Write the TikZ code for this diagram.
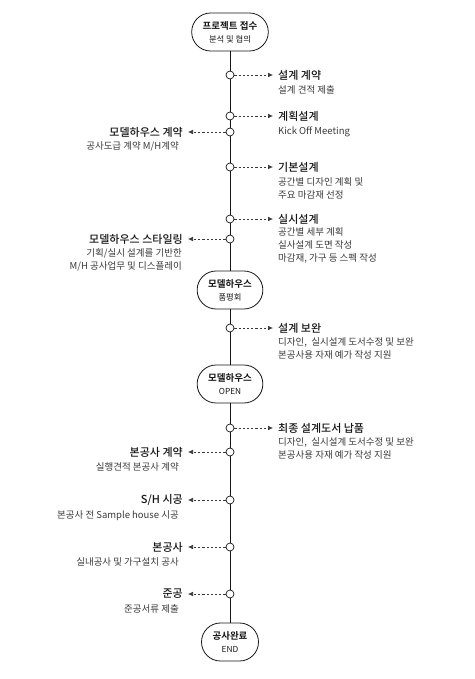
\documentclass[tikz,border=0pt]{standalone}
\usepackage{fontspec}
\setmainfont{Noto Sans CJK KR}[BoldFont={Noto Sans CJK KR Bold}]
\newfontfamily\medfont{Noto Sans CJK KR Medium}
\usetikzlibrary{arrows.meta}

\definecolor{ink}{HTML}{161616}
\definecolor{subink}{HTML}{3A3A3A}

\begin{document}
\begin{tikzpicture}[
  x=1pt, y=-1pt,
  stage/.style={
    rectangle,
    rounded corners=18.9pt,
    draw=ink,
    line width=0.8pt,
    minimum height=38pt,
    inner xsep=11pt,
    align=center,
    text=ink
  },
  milestone/.style={circle, draw=ink, fill=white, line width=0.7pt,
    minimum size=8pt, inner sep=0pt},
  headline/.style={font=\medfont\fontsize{11}{13}\selectfont, text=ink, inner sep=0pt},
  note/.style={font=\fontsize{9.5}{13.2}\selectfont, text=subink, inner sep=0pt},
  link/.style={draw=ink!85, line width=0.6pt, dash pattern=on 2.2pt off 2pt,
    shorten >=5pt, -{Latex[length=5pt,width=4.5pt]}}
]
  \useasboundingbox (0,0) rectangle (474,679);

  % stages on the main line
  \node[stage] (start) at (230,32)
    {{\bfseries\fontsize{9.5}{10}\selectfont 프로젝트 접수}\\[1pt]{\fontsize{8.3}{9}\selectfont 분석 및 협의}};
  \node[stage] (review) at (230,290)
    {{\bfseries\fontsize{9.5}{10}\selectfont 모델하우스}\\[1pt]{\fontsize{8.3}{9}\selectfont 품평회}};
  \node[stage] (open) at (230,384)
    {{\bfseries\fontsize{9.5}{10}\selectfont 모델하우스}\\[1pt]{\fontsize{8.3}{9}\selectfont OPEN}};
  \node[stage] (done) at (230,642)
    {{\bfseries\fontsize{9.5}{10}\selectfont 공사완료}\\[1pt]{\fontsize{8.3}{9}\selectfont END}};

  \draw[ink, line width=0.8pt] (start) -- (review) -- (open) -- (done);

  % milestones
  \node[milestone] (m1) at (230,75) {};
  \node[milestone] (m2) at (230,116) {};
  \node[milestone] (m3) at (230,132) {};
  \node[milestone] (m4) at (230,167) {};
  \node[milestone] (m5) at (230,219) {};
  \node[milestone] (m6) at (230,239) {};
  \node[milestone] (m7) at (230,328) {};
  \node[milestone] (m8) at (230,428) {};
  \node[milestone] (m9) at (230,452) {};
  \node[milestone] (m10) at (230,500) {};
  \node[milestone] (m11) at (230,547) {};
  \node[milestone] (m12) at (230,594) {};

  % right side
  \node[headline, anchor=west] (h1) at (278,75) {설계 계약};
  \node[note, anchor=north west] (n1) at ([yshift=-5pt]h1.south west) {설계 견적 제출};
  \node[headline, anchor=west] (h2) at (278,116) {계획설계};
  \node[note, anchor=north west] (n2) at ([yshift=-5pt]h2.south west) {Kick Off Meeting};
  \node[headline, anchor=west] (h4) at (278,167) {기본설계};
  \node[note, anchor=north west, align=left] (n4) at ([yshift=-5pt]h4.south west)
    {공간별 디자인 계획 및\\주요 마감재 선정};
  \node[headline, anchor=west] (h5) at (278,219) {실시설계};
  \node[note, anchor=north west, align=left] (n5) at ([yshift=-3pt]h5.south west)
    {공간별 세부 계획\\실사설계 도면 작성\\마감재, 가구 등 스펙 작성};
  \node[headline, anchor=west] (h7) at (278,328) {설계 보완};
  \node[note, anchor=north west, align=left] (n7) at ([yshift=-4pt]h7.south west)
    {디자인,\ \ 실시설계 도서수정 및 보완\\본공사용 자재 예가 작성 지원};
  \node[headline, anchor=west] (h8) at (278,428) {최종 설계도서 납품};
  \node[note, anchor=north west, align=left] (n8) at ([yshift=-4pt]h8.south west)
    {디자인,\ \ 실시설계 도서수정 및 보완\\본공사용 자재 예가 작성 지원};

  % left side
  \node[headline, anchor=east] (h3) at (183,132) {모델하우스 계약};
  \node[note, anchor=north east] (n3) at ([xshift=-4pt,yshift=-4pt]h3.south east) {공사도급 계약 M/H계약};
  \node[headline, anchor=east] (h6) at (183,239) {모델하우스 스타일링};
  \node[note, anchor=north east, align=right] (n6) at ([xshift=-1pt,yshift=-4pt]h6.south east)
    {기획/실시 설계를 기반한\\M/H 공사업무 및 디스플레이};
  \node[headline, anchor=east] (h9) at (183,452) {본공사 계약};
  \node[note, anchor=north east] (n9) at ([xshift=-4pt,yshift=-5pt]h9.south east) {실행견적 본공사 계약};
  \node[headline, anchor=east] (h10) at (183,500) {S/H 시공};
  \node[note, anchor=north east] (n10) at ([xshift=-4pt,yshift=-5pt]h10.south east) {본공사 전 Sample house 시공};
  \node[headline, anchor=east] (h11) at (183,547) {본공사};
  \node[note, anchor=north east] (n11) at ([xshift=-4pt,yshift=-5pt]h11.south east) {실내공사 및 가구설치 공사};
  \node[headline, anchor=east] (h12) at (183,594) {준공};
  \node[note, anchor=north east] (n12) at ([xshift=-4pt,yshift=-5pt]h12.south east) {준공서류 제출};

  % dashed links
  \draw[link] (m1) -- (h1);
  \draw[link] (m2) -- (h2);
  \draw[link] (m3) -- (h3);
  \draw[link] (m4) -- (h4);
  \draw[link] (m5) -- (h5);
  \draw[link] (m6) -- (h6);
  \draw[link] (m7) -- (h7);
  \draw[link] (m8) -- (h8);
  \draw[link] (m9) -- (h9);
  \draw[link] (m10) -- (h10);
  \draw[link] (m11) -- (h11);
  \draw[link] (m12) -- (h12);
\end{tikzpicture}
\end{document}
